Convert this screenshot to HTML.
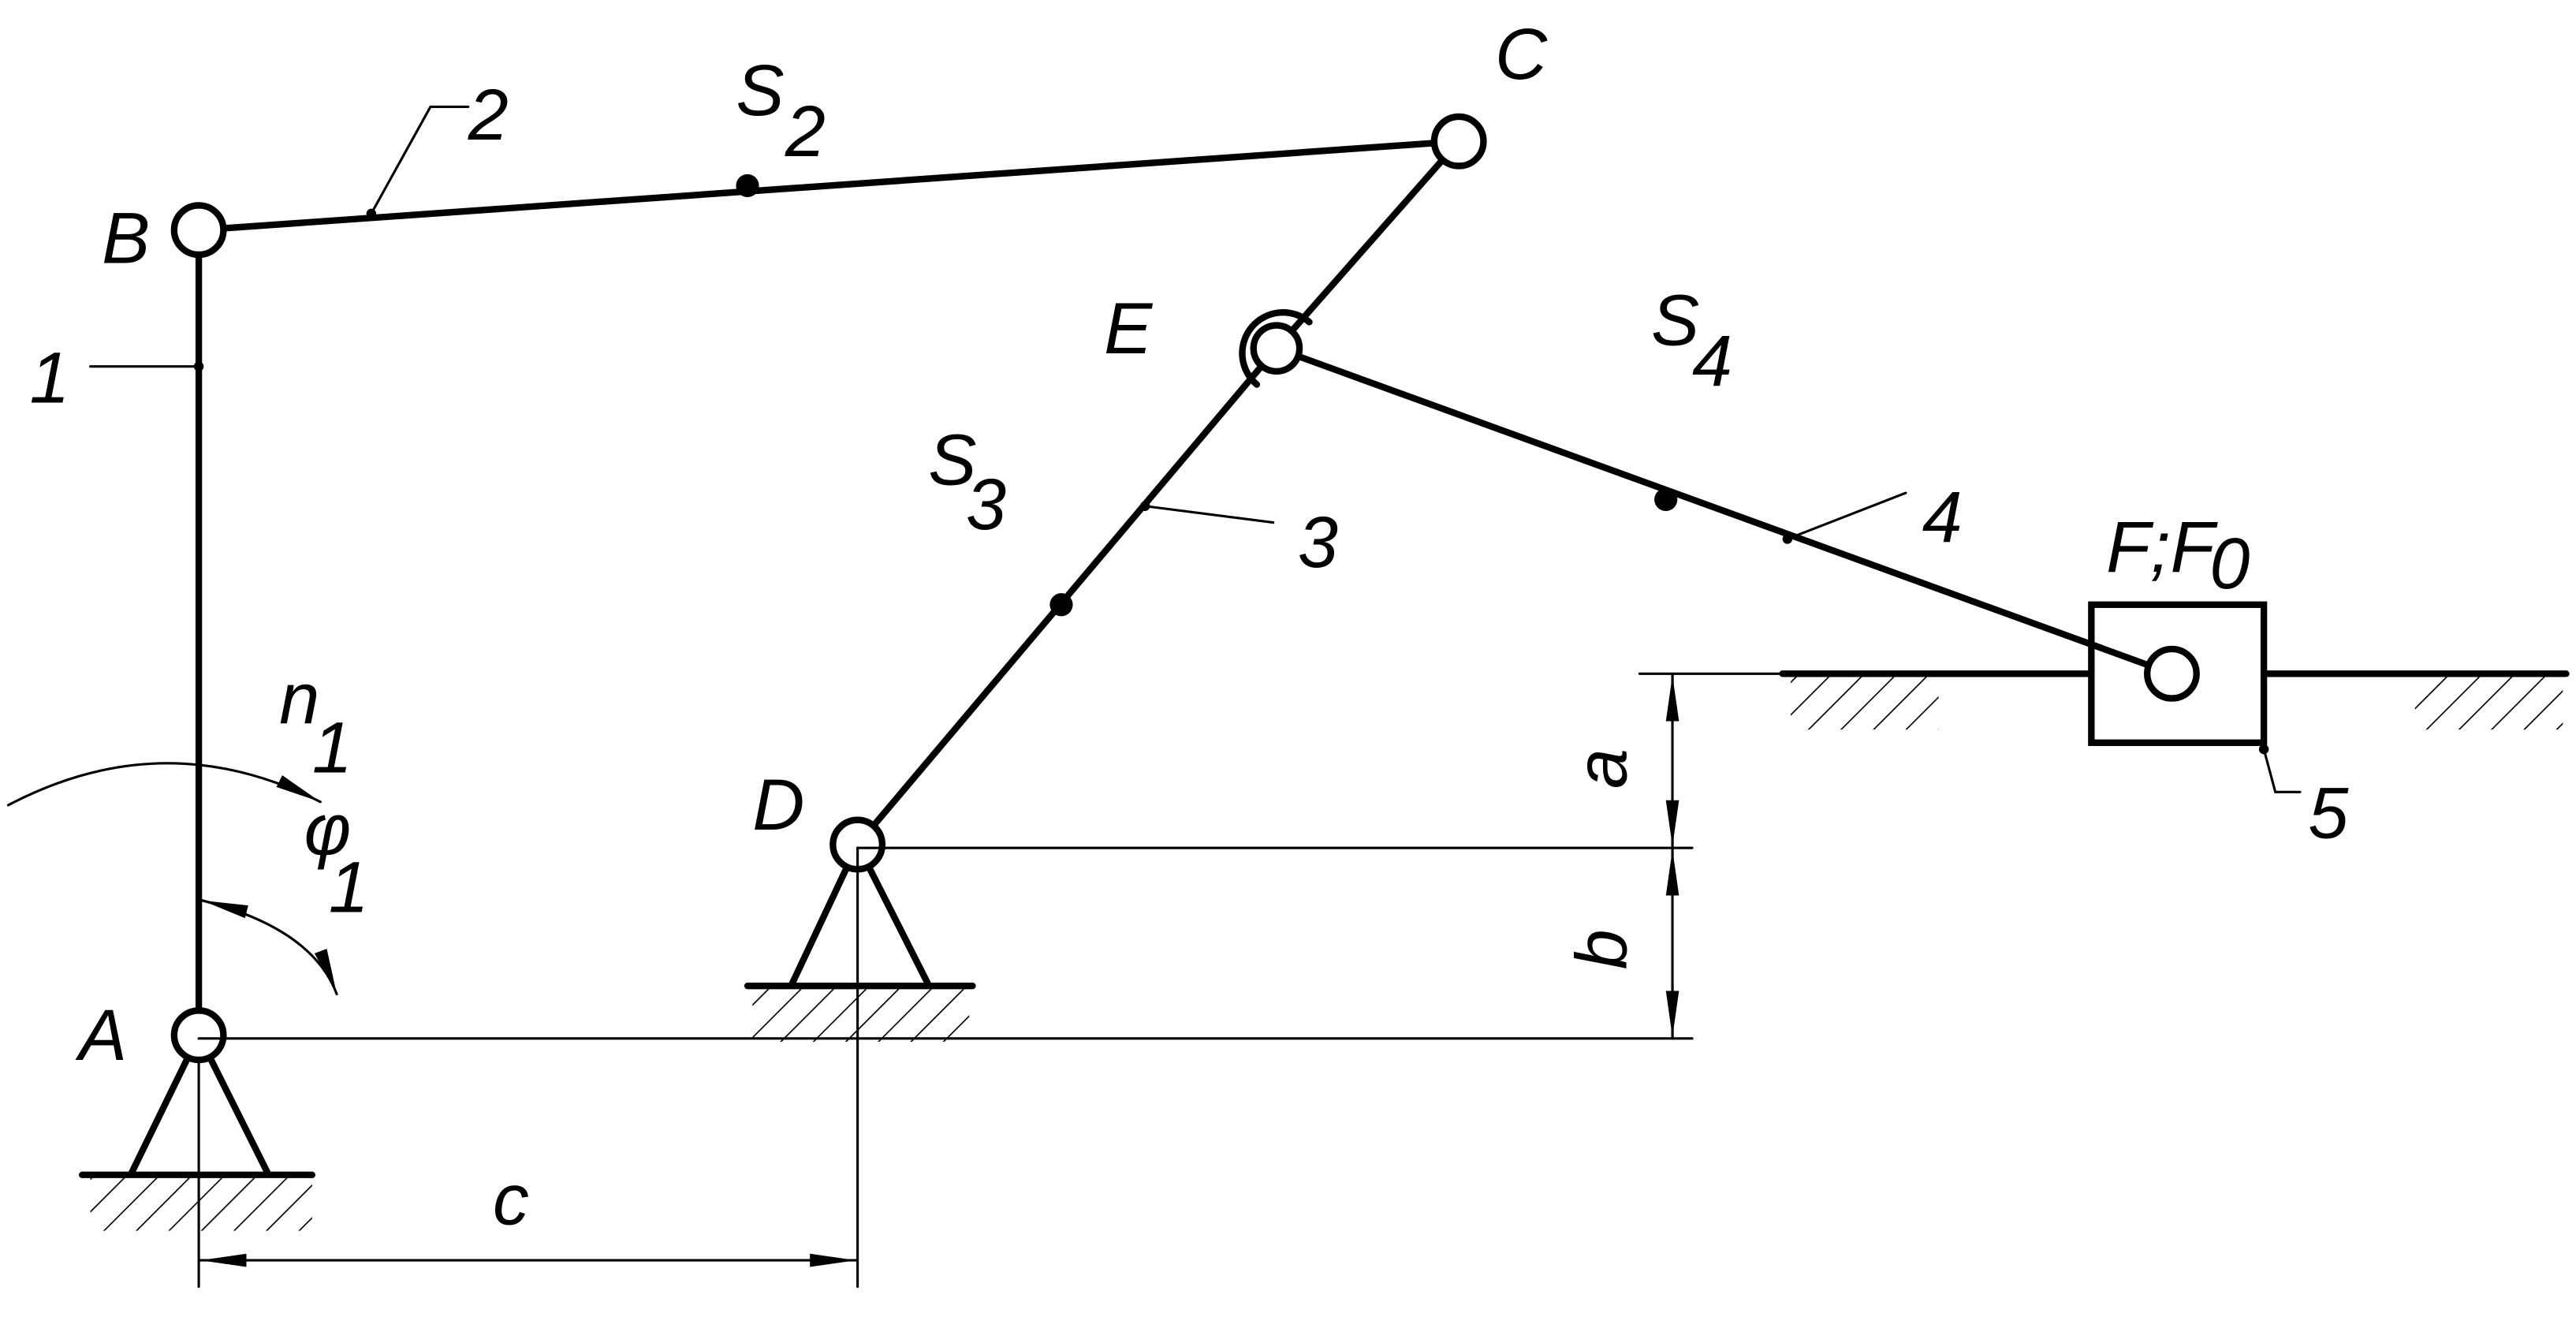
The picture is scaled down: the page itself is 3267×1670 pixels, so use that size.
<!DOCTYPE html>
<html><head><meta charset="utf-8"><style>
html,body{margin:0;padding:0;background:#fff;}
svg{display:block}
text{font-family:"Liberation Sans",sans-serif;font-style:italic;font-size:44px;fill:#000}
</style></head><body>
<svg width="3267" height="1670" viewBox="0 0 1568 801.5" preserveAspectRatio="none" xmlns="http://www.w3.org/2000/svg">
<defs>
<pattern id="h" width="14" height="14" patternUnits="userSpaceOnUse" patternTransform="rotate(45)">
<line x1="0" y1="0" x2="0" y2="14" stroke="#000" stroke-width="1.6"/>
</pattern>
<marker id="al" markerWidth="28" markerHeight="10" refX="28" refY="5" orient="auto" markerUnits="userSpaceOnUse">
<path d="M0,1 L28,5 L0,9 Z" fill="#000"/></marker>
<marker id="als" markerWidth="28" markerHeight="10" refX="0" refY="5" orient="auto" markerUnits="userSpaceOnUse">
<path d="M28,1 L0,5 L28,9 Z" fill="#000"/></marker>
</defs>
<g stroke="#000" fill="none" stroke-linecap="round">
<!-- slider -->
<rect x="1273" y="368" width="105" height="84" stroke-width="4" fill="#fff"/>
<line x1="1085" y1="410" x2="1273" y2="410" stroke-width="4"/>
<line x1="1378" y1="410" x2="1562" y2="410" stroke-width="4"/>
<rect x="1090" y="412" width="90" height="32" fill="url(#h)" stroke="none"/>
<rect x="1470" y="412" width="90" height="32" fill="url(#h)" stroke="none"/>
<!-- links -->
<line x1="121" y1="140" x2="121" y2="616" stroke-width="4"/>
<line x1="121" y1="140" x2="888" y2="86" stroke-width="4"/>
<line x1="888" y1="86" x2="777" y2="212" stroke-width="4"/>
<line x1="777" y1="212" x2="522" y2="514" stroke-width="4"/>
<line x1="777" y1="212" x2="1322" y2="410" stroke-width="4"/>
<!-- supports -->
<path d="M121,630 L80,714 M121,630 L163,714" stroke-width="4"/>
<line x1="50" y1="715" x2="190" y2="715" stroke-width="4"/>
<rect x="55" y="717" width="135" height="32" fill="url(#h)" stroke="none"/>
<path d="M522,514 L482,599 M522,514 L565,599" stroke-width="4"/>
<line x1="455" y1="600" x2="592" y2="600" stroke-width="4"/>
<rect x="458" y="602" width="132" height="32" fill="url(#h)" stroke="none"/>
<!-- joints -->
<circle cx="121" cy="140" r="15" stroke-width="4" fill="#fff"/>
<circle cx="888" cy="86" r="15" stroke-width="4" fill="#fff"/>
<circle cx="777" cy="212" r="14" stroke-width="4" fill="#fff"/>
<path d="M797,196 A24,24 0 1 0 765,234" stroke-width="4" fill="none"/>
<circle cx="522" cy="514" r="15" stroke-width="4" fill="#fff"/>
<circle cx="121" cy="630" r="15" stroke-width="4" fill="#fff"/>
<circle cx="1322" cy="410" r="15" stroke-width="4" fill="#fff"/>
<!-- thin dims -->
<line x1="121" y1="632" x2="1030" y2="632" stroke-width="1.5"/>
<line x1="522" y1="516" x2="1030" y2="516" stroke-width="1.5"/>
<line x1="998" y1="410" x2="1085" y2="410" stroke-width="1.5"/>
<line x1="1018" y1="410" x2="1018" y2="632" stroke-width="1.5"/>
<line x1="1018" y1="440" x2="1018" y2="411" stroke-width="1.5" marker-end="url(#al)"/>
<line x1="1018" y1="490" x2="1018" y2="515" stroke-width="1.5" marker-end="url(#al)"/>
<line x1="1018" y1="545" x2="1018" y2="517" stroke-width="1.5" marker-end="url(#al)"/>
<line x1="1018" y1="600" x2="1018" y2="631" stroke-width="1.5" marker-end="url(#al)"/>
<line x1="121" y1="645" x2="121" y2="783" stroke-width="1.5"/>
<line x1="522" y1="516" x2="522" y2="783" stroke-width="1.5"/>
<line x1="122" y1="767" x2="521" y2="767" stroke-width="1.5" marker-start="url(#als)" marker-end="url(#al)"/>
<path d="M5,490 Q100,440 195,488" stroke-width="1.5" marker-end="url(#al)"/>
<path d="M123,548 Q190,565 205,605" stroke-width="1.5" marker-start="url(#als)" marker-end="url(#al)"/>
<!-- leaders -->
<line x1="55" y1="223" x2="121" y2="223" stroke-width="1.5"/>
<polyline points="226,130 262,65 285,65" stroke-width="1.5"/>
<line x1="697" y1="308" x2="775" y2="318" stroke-width="1.5"/>
<line x1="1088" y1="328" x2="1160" y2="300" stroke-width="1.5"/>
<polyline points="1378,456 1385,482 1400,482" stroke-width="1.5"/>
</g>
<g fill="#000">
<circle cx="455" cy="113" r="7"/><circle cx="646" cy="368" r="7"/><circle cx="1014" cy="304" r="7"/>
<circle cx="121" cy="223" r="3"/><circle cx="226" cy="130" r="3"/><circle cx="697" cy="308" r="3"/><circle cx="1088" cy="328" r="3"/><circle cx="1378" cy="456" r="3"/>
</g>
<text x="62" y="160">B</text>
<text x="910" y="48">C</text>
<text x="672" y="215">E</text>
<text x="458" y="505">D</text>
<text x="48" y="645">A</text>
<text x="448" y="70">S</text><text x="478" y="95">2</text>
<text x="565" y="295">S</text><text x="588" y="322">3</text>
<text x="1005" y="210">S</text><text x="1030" y="235">4</text>
<text x="1282" y="348">F;F</text><text x="1345" y="358" font-size="36">0</text>
<text x="18" y="245">1</text>
<text x="285" y="85">2</text>
<text x="790" y="345">3</text>
<text x="1170" y="330">4</text>
<text x="1405" y="510">5</text>
<text x="300" y="745">c</text>
<text x="170" y="440" font-size="36">n</text><text x="190" y="470" font-size="36">1</text>
<text x="185" y="520" font-size="40">φ</text><text x="200" y="555" font-size="40">1</text>
<text x="0" y="0" transform="translate(990,480) rotate(-90)">a</text>
<text x="0" y="0" transform="translate(990,590) rotate(-90)">b</text>
</svg>
</body></html>
